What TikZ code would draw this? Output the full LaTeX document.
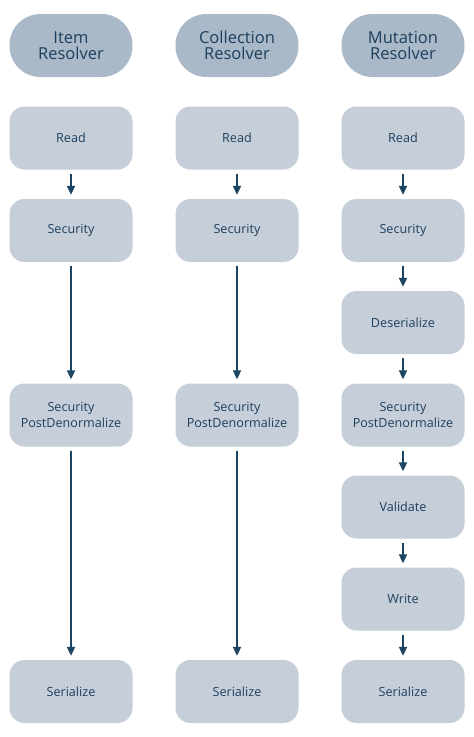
\documentclass[tikz,border=0pt]{standalone}
\usepackage{fontspec}
\setmainfont{Open Sans}
\usetikzlibrary{arrows.meta}
\definecolor{hdrfill}{HTML}{A9B9C7}
\definecolor{boxfill}{HTML}{C6CFD9}
\definecolor{txt}{HTML}{1E3F5E}
\definecolor{arr}{HTML}{1B4562}
\begin{document}
\begin{tikzpicture}[x=1pt,y=-1pt,
  hdr/.style={fill=hdrfill, rounded corners=31pt, minimum width=123pt, minimum height=63pt,
    text=txt, align=center, font=\fontsize{16.5}{16.5}\selectfont, inner sep=0pt},
  stepbox/.style={fill=boxfill, rounded corners=15pt, minimum width=123pt, minimum height=63pt,
    text=txt, align=center, font=\fontsize{12.6}{16}\selectfont, inner sep=0pt},
  flow/.style={draw=arr, line width=2pt, -{Triangle[length=9pt,width=8pt]}, shorten <=4pt, shorten >=4pt}]
\useasboundingbox (0,0) rectangle (474,737);
\fill[white] (0,0) rectangle (474,737);
% column 1
\node[hdr] (h1) at (71,45.5) {Item\\Resolver};
\node[stepbox] (r1) at (71,138) {Read};
\node[stepbox] (s1) at (71,230.5) {Security};
\node[stepbox] (p1) at (71,415) {Security\\PostDenormalize};
\node[stepbox] (z1) at (71,691.5) {Serialize};
% column 2
\node[hdr] (h2) at (237,45.5) {Collection\\Resolver};
\node[stepbox] (r2) at (237,138) {Read};
\node[stepbox] (s2) at (237,230.5) {Security};
\node[stepbox] (p2) at (237,415) {Security\\PostDenormalize};
\node[stepbox] (z2) at (237,691.5) {Serialize};
% column 3
\node[hdr] (h3) at (403,45.5) {Mutation\\Resolver};
\node[stepbox] (r3) at (403,138) {Read};
\node[stepbox] (s3) at (403,230.5) {Security};
\node[stepbox] (d3) at (403,322.5) {Deserialize};
\node[stepbox] (p3) at (403,415) {Security\\PostDenormalize};
\node[stepbox] (v3) at (403,507) {Validate};
\node[stepbox] (w3) at (403,599) {Write};
\node[stepbox] (z3) at (403,691.5) {Serialize};
% arrows
\draw[flow] (r1) -- (s1);
\draw[flow] (s1) -- (p1);
\draw[flow] (p1) -- (z1);
\draw[flow] (r2) -- (s2);
\draw[flow] (s2) -- (p2);
\draw[flow] (p2) -- (z2);
\draw[flow] (r3) -- (s3);
\draw[flow] (s3) -- (d3);
\draw[flow] (d3) -- (p3);
\draw[flow] (p3) -- (v3);
\draw[flow] (v3) -- (w3);
\draw[flow] (w3) -- (z3);
\end{tikzpicture}
\end{document}
